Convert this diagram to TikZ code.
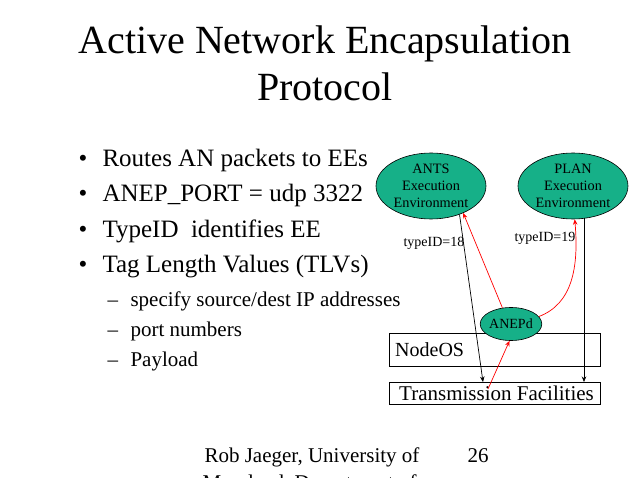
\documentclass[tikz,border=0pt]{standalone}
\usepackage{fontspec}
\setmainfont{Liberation Serif}
\usetikzlibrary{arrows.meta,shapes.geometric}
\definecolor{eegreen}{RGB}{22,176,136}
\tikzset{
  title/.style={anchor=base,font=\fontsize{40}{44}\selectfont},
  bul/.style={anchor=base west,font=\fontsize{25}{28}\selectfont},
  sub/.style={anchor=base west,font=\fontsize{21}{24}\selectfont},
  foot/.style={anchor=base west,font=\fontsize{21}{24}\selectfont},
  ee/.style={ellipse,draw=black,fill=eegreen,line width=0.6pt,minimum width=110,minimum height=66,inner sep=0pt,align=center,font=\fontsize{14.3}{17}\selectfont},
  lbl/.style={anchor=base west,font=\fontsize{14}{16}\selectfont},
  box/.style={rectangle,draw=black,line width=0.6pt,minimum width=211,inner sep=0pt},
  boxtxt/.style={anchor=base west,inner sep=0pt},
  blk/.style={draw=black,line width=0.7pt,-{Stealth[length=5.5pt,width=4.5pt]}},
  redar/.style={draw=red,line width=0.7pt,-{Stealth[length=5.5pt,width=4.5pt]}},
}
\begin{document}
\begin{tikzpicture}[x=1pt,y=-1pt]
\useasboundingbox (0,0) rectangle (638,478);
\clip (0,0) rectangle (638,478);
\fill[white] (0,0) rectangle (638,478);
% title
\node[title] (t1) at (325,54) {Active Network Encapsulation};
\node[title] (t2) at (325,101) {Protocol};
% bullets
\node[bul] (b1d) at (75,167) {\textbullet};
\node[bul] (b1) at (99,167) {Routes AN packets to EEs};
\node[bul] (b2d) at (75,202) {\textbullet};
\node[bul] (b2) at (99,202) {ANEP\_PORT = udp 3322};
\node[bul] (b3d) at (75,238) {\textbullet};
\node[bul] (b3) at (99,238) {TypeID\ \ identifies EE};
\node[bul] (b4d) at (75,273) {\textbullet};
\node[bul] (b4) at (99,273) {Tag Length Values (TLVs)};
\node[sub] (s1d) at (104,307) {\textendash};
\node[sub] (s1) at (127,307) {specify source/dest IP addresses};
\node[sub] (s2d) at (104,337) {\textendash};
\node[sub] (s2) at (127,337) {port numbers};
\node[sub] (s3d) at (104,367) {\textendash};
\node[sub] (s3) at (127,367) {Payload};
% footer
\node[foot] (f1) at (201,463) {Rob Jaeger, University of};
\node[foot] (f2) at (464,463) {26};
\node[foot] (f3) at (199,490) {Maryland, Department of};
% diagram
\node[box,minimum height=33] (nodeos) at (494.5,349.5) {};
\node[boxtxt,font=\fontsize{20}{22}\selectfont] (nodeostxt) at (395,357) {NodeOS};
\node[box,minimum height=22] (trans) at (494.5,393) {};
\node[boxtxt,font=\fontsize{21}{22}\selectfont] (transtxt) at (399,401) {Transmission Facilities};
\node[ee] (ants) at (431,186) {ANTS\\Execution\\Environment};
\node[ee] (plan) at (573,186) {PLAN\\Execution\\Environment};
\node[ee,minimum width=57,minimum height=33,font=\fontsize{14}{16}\selectfont] (anepd) at (511,324) {ANEPd};
\node[lbl] (l18) at (400,247) {typeID=18};
\node[lbl] (l19) at (511,242) {typeID=19};
\coordinate (ta) at (483,382);
\coordinate (pa) at (584,218);
\coordinate (pb) at (584,382);
\coordinate (tr) at (488,389);
\draw[blk] (ants.-45) -- (ta);
\draw[blk] (pa) -- (pb);
\draw[redar] (anepd.118) -- (ants.-40);
\draw[redar] (anepd.15) .. controls (572,304) and (579,268) .. (plan.-87);
\draw[redar] (tr) -- (anepd.-95);
\end{tikzpicture}
\end{document}
